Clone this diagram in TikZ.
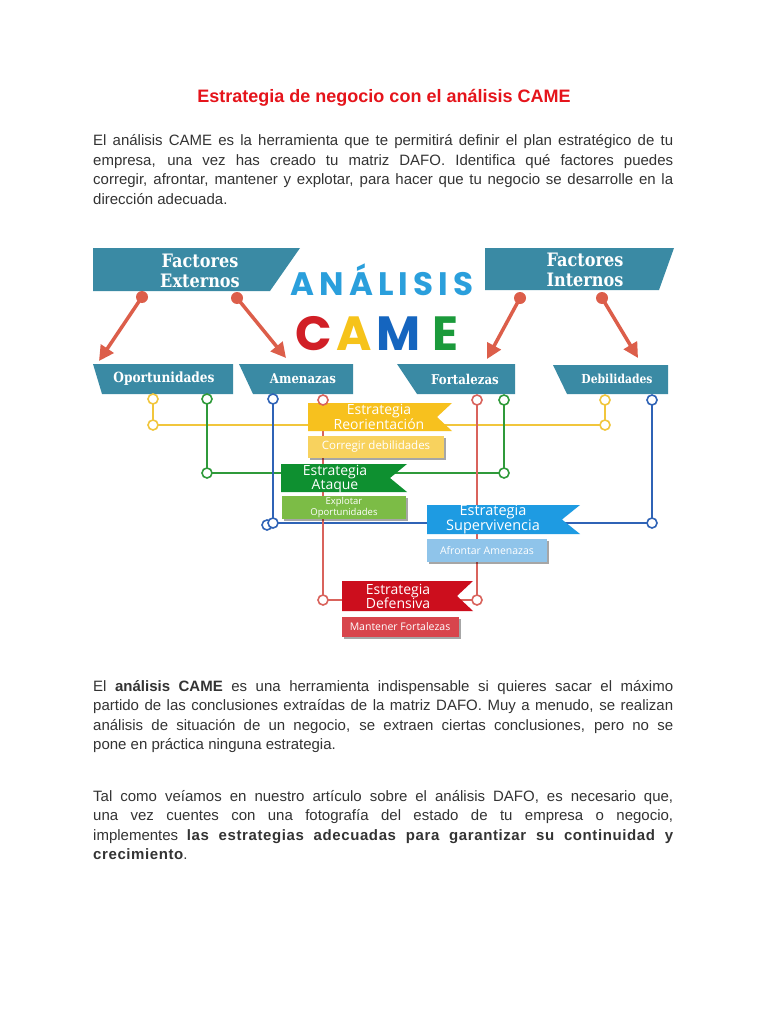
\documentclass[tikz,border=0pt]{standalone}
\usepackage{fontspec}
\setmainfont{Liberation Sans}
\newfontfamily\slabf[FakeStretch=0.87]{DejaVu Serif}
\newfontfamily\stratf{Open Sans}
\newfontfamily\poppf{Poppins}
\newfontfamily\spacedf[LetterSpace=4]{Liberation Sans}
\usetikzlibrary{arrows.meta}

\definecolor{bodygray}{HTML}{333333}
\definecolor{titlered}{HTML}{E5141B}
\definecolor{tealbox}{HTML}{3A8AA4}
\definecolor{arrowred}{HTML}{DC5E4A}
\definecolor{anblue}{HTML}{2A9FDC}
\definecolor{cRed}{HTML}{D11F26}
\definecolor{cYel}{HTML}{F6C31A}
\definecolor{cBlu}{HTML}{1565BF}
\definecolor{cGrn}{HTML}{1B9A3B}
\definecolor{yBan}{HTML}{F7C11E}
\definecolor{ySub}{HTML}{F8D25E}
\definecolor{gBan}{HTML}{0E9030}
\definecolor{gSub}{HTML}{7CBC46}
\definecolor{bBan}{HTML}{1E9BE2}
\definecolor{bSub}{HTML}{8FC4EA}
\definecolor{rBan}{HTML}{CC0E1D}
\definecolor{rSub}{HTML}{D8454C}
\definecolor{lnY}{HTML}{F1C63C}
\definecolor{lnG}{HTML}{2F9A3A}
\definecolor{lnB}{HTML}{2F63B6}
\definecolor{lnR}{HTML}{D9635C}

\tikzset{
  body/.style={font=\fontsize{15}{17}\selectfont, text=bodygray, inner sep=0pt, anchor=base west},
  factxt/.style={font=\slabf\bfseries\fontsize{18.5}{19.5}\selectfont, text=white, align=center, inner sep=0pt},
  lbltxt/.style={font=\slabf\bfseries\fontsize{13.5}{14}\selectfont, text=white, inner sep=0pt},
  strattxt/.style={font=\stratf\fontsize{14}{14.5}\selectfont, text=white, align=center, inner sep=0pt},
  subtxt/.style={font=\stratf\fontsize{10.5}{11}\selectfont, text=white, align=center, inner sep=0pt},
  conn/.style={line width=1.8pt},
  ring/.style={circle, draw, fill=white, line width=1.6pt, minimum size=10pt, inner sep=0pt},
  redarrow/.style={draw=arrowred, line width=3.5pt, -{Triangle[length=15pt,width=15pt]}},
  shadowbox/.style={fill=black, opacity=0.35},
}

\begin{document}
\begin{tikzpicture}[x=1pt,y=-1pt]
\useasboundingbox (0,0) rectangle (768,1024);
\fill[white] (0,0) rectangle (768,1024);

% ---------- Title and first paragraph ----------
\node[font=\bfseries\fontsize{18}{20}\selectfont, text=titlered, anchor=base, inner sep=0pt] (title) at (384,103) {Estrategia de negocio con el análisis CAME};

\node[body] (p1a) at (93,146) {\makebox[580pt][s]{El análisis CAME es la herramienta que te permitirá definir el plan estratégico de tu}};
\node[body] (p1b) at (93,165.5) {\makebox[580pt][s]{empresa, una vez has creado tu matriz DAFO. Identifica qué factores puedes}};
\node[body] (p1c) at (93,185) {\makebox[580pt][s]{corregir, afrontar, mantener y explotar, para hacer que tu negocio se desarrolle en la}};
\node[body] (p1d) at (93,204.5) {dirección adecuada.};

% ---------- Diagram: heading words ----------
\node[font=\poppf\bfseries\fontsize{32.5}{34}\selectfont, text=anblue, anchor=base, inner sep=0pt] (analisis) at (382,295) {\addfontfeature{LetterSpace=16}ANÁLISIS};
\node[font=\poppf\bfseries\fontsize{48}{50}\selectfont, text=cRed, anchor=base, inner sep=0pt] (lc) at (314,350) {C};
\node[font=\poppf\bfseries\fontsize{48}{50}\selectfont, text=cYel, anchor=base, inner sep=0pt] (la) at (354,350) {A};
\node[font=\poppf\bfseries\fontsize{48}{50}\selectfont, text=cBlu, anchor=base, inner sep=0pt] (lm) at (399,350) {M};
\node[font=\poppf\bfseries\fontsize{48}{50}\selectfont, text=cGrn, anchor=base, inner sep=0pt] (le) at (445,350) {E};

% ---------- Factores banners ----------
\fill[tealbox] (93,248) -- (300,248) -- (270,291) -- (93,291) -- cycle;
\node[factxt] (fext) at (200,271) {Factores\\Externos};
\fill[tealbox] (485,248) -- (674,248) -- (659,290) -- (485,290) -- cycle;
\node[factxt] (fint) at (585,270) {Factores\\Internos};

% ---------- Red arrows ----------
\coordinate (ea1s) at (142,297); \coordinate (ea1e) at (99,361);
\coordinate (ea2s) at (237,298); \coordinate (ea2e) at (286,358);
\coordinate (ia1s) at (520,298); \coordinate (ia1e) at (487,359);
\coordinate (ia2s) at (602,298); \coordinate (ia2e) at (638,358);
\foreach \s/\e in {ea1s/ea1e, ea2s/ea2e, ia1s/ia1e, ia2s/ia2e}{
  \draw[redarrow] (\s) -- (\e);
  \fill[arrowred] (\s) circle (6pt);
}

% ---------- Factor labels ----------
\fill[tealbox] (93,364) -- (233,364) -- (233,394) -- (102,394) -- cycle;
\node[lbltxt, font=\slabf\bfseries\fontsize{14}{15}\selectfont] (oport) at (164,379) {Oportunidades};
\fill[tealbox] (239,364) -- (353,364) -- (353,394) -- (253,394) -- cycle;
\node[lbltxt] (amen) at (303,379) {Amenazas};
\fill[tealbox] (397,364) -- (515,364) -- (515,394) -- (417,394) -- cycle;
\node[lbltxt] (fort) at (465,379) {Fortalezas};
\fill[tealbox] (553,365) -- (668,365) -- (668,394) -- (567,394) -- cycle;
\node[lbltxt, font=\slabf\bfseries\fontsize{12.4}{13}\selectfont] (debil) at (617,379) {Debilidades};

% ---------- Connector coordinates ----------
\coordinate (yo1) at (153,399); \coordinate (yo2) at (153,425);
\coordinate (yd2) at (605,425); \coordinate (yd1) at (605,400);
\coordinate (go1) at (207,399); \coordinate (go2) at (207,473);
\coordinate (gf2) at (504,473); \coordinate (gf1) at (504,400);
\coordinate (ba1) at (273,399); \coordinate (ba2) at (273,523);
\coordinate (bd2) at (652,523); \coordinate (bd1) at (652,400);
\coordinate (bc2) at (267,525);
\coordinate (ra1) at (323,400); \coordinate (ra2) at (323,600);
\coordinate (rf2) at (477,600); \coordinate (rf1) at (477,400);

\draw[conn, lnY] (yo1) -- (yo2) -- (yd2) -- (yd1);
\draw[conn, lnG] (go1) -- (go2) -- (gf2) -- (gf1);
\draw[conn, lnB] (ba1) -- (ba2) -- (bd2) -- (bd1);
\draw[conn, lnR] (ra1) -- (ra2) -- (rf2) -- (rf1);

% ---------- Strategy banners ----------
% Reorientacion
\fill[yBan] (308,403) -- (452,403) -- (437,417) -- (452,431) -- (308,431) -- cycle;
\node[strattxt] (reo) at (379,417) {Estrategia\\Reorientación};
\fill[shadowbox] (310,438) rectangle (446,460);
\fill[ySub] (308,436) rectangle (444,458);
\node[subtxt, font=\stratf\fontsize{11.5}{12}\selectfont] (corr) at (376,447) {Corregir debilidades};

% Ataque
\fill[gBan] (281,464) -- (407,464) -- (390,478) -- (407,492) -- (281,492) -- cycle;
\node[strattxt] (ataq) at (335,479) {Estrategia\\Ataque};
\fill[shadowbox] (284,498) rectangle (408,521);
\fill[gSub] (282,496) rectangle (406,519);
\node[subtxt, font=\stratf\fontsize{9.5}{10.5}\selectfont] (expl) at (344,507.5) {Explotar\\Oportunidades};

% Supervivencia
\fill[bBan] (427,505) -- (580,505) -- (562,519.5) -- (580,534) -- (427,534) -- cycle;
\node[strattxt, font=\stratf\fontsize{14.5}{15}\selectfont] (superv) at (493,519.5) {Estrategia\\Supervivencia};
\fill[shadowbox] (429,541) rectangle (549,564);
\fill[bSub] (427,539) rectangle (547,562);
\node[subtxt] (afron) at (487,550.5) {Afrontar Amenazas};

% Defensiva
\fill[rBan] (342,581) -- (473,581) -- (457,596) -- (473,611) -- (342,611) -- cycle;
\node[strattxt] (defen) at (398,596.5) {Estrategia\\Defensiva};
\fill[shadowbox] (344,619) rectangle (461,639);
\fill[rSub] (342,617) rectangle (459,637);
\node[subtxt] (mant) at (400,627) {Mantener Fortalezas};

% ---------- Rings ----------
\foreach \c in {yo1,yo2,yd2,yd1}{\node[ring, draw=lnY] at (\c) {};}
\foreach \c in {go1,go2,gf2,gf1}{\node[ring, draw=lnG] at (\c) {};}
\foreach \c in {ba1,bc2,ba2,bd2,bd1}{\node[ring, draw=lnB] at (\c) {};}
\foreach \c in {ra1,ra2,rf2,rf1}{\node[ring, draw=lnR] at (\c) {};}

% ---------- Lower paragraphs ----------
\node[body] (p2a) at (93,691) {\makebox[580pt][s]{El \textbf{análisis CAME} es una herramienta indispensable si quieres sacar el máximo}};
\node[body] (p2b) at (93,710.5) {\makebox[580pt][s]{partido de las conclusiones extraídas de la matriz DAFO. Muy a menudo, se realizan}};
\node[body] (p2c) at (93,730) {\makebox[580pt][s]{análisis de situación de un negocio, se extraen ciertas conclusiones, pero no se}};
\node[body] (p2d) at (93,749.5) {pone en práctica ninguna estrategia.};

\node[body] (p3a) at (93,801) {\makebox[580pt][s]{Tal como veíamos en nuestro artículo sobre el análisis DAFO, es necesario que,}};
\node[body] (p3b) at (93,820.5) {\makebox[580pt][s]{una vez cuentes con una fotografía del estado de tu empresa o negocio,}};
\node[body] (p3c) at (93,840) {\makebox[580pt][s]{implementes {\spacedf\bfseries las estrategias adecuadas para garantizar su continuidad y}}};
\node[body] (p3d) at (93,859.5) {{\spacedf\bfseries crecimiento}.};
\end{tikzpicture}
\end{document}
